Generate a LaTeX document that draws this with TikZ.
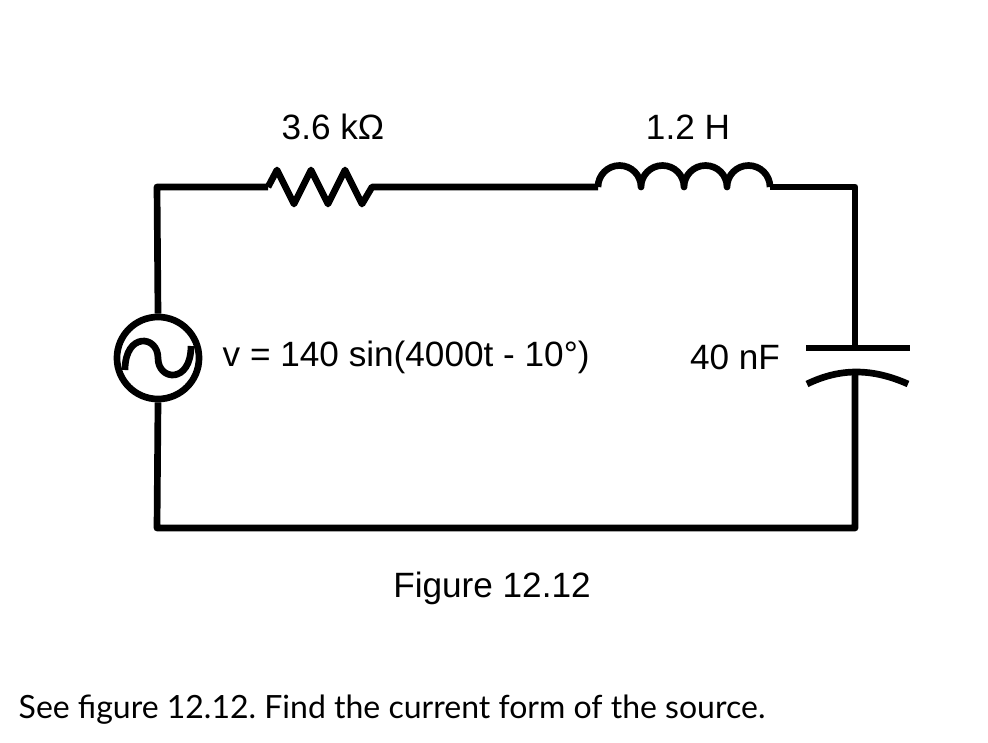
\documentclass[tikz,border=0pt]{standalone}
\usepackage{fontspec}
\setmainfont{Liberation Sans}
\newfontfamily\latofont{Lato}
\frenchspacing
\begin{document}
\begin{tikzpicture}[x=0.01cm,y=-0.01cm,
    wire/.style={line width=1.9pt,line join=round},
    lbl/.style={font=\fontsize{10pt}{12pt}\selectfont,inner sep=0pt}]
  \useasboundingbox (0,0) rectangle (988,742);
  % corners and component ends
  \coordinate (tl) at (157,187);
  \coordinate (tr) at (855,187);
  \coordinate (bl) at (157,528);
  \coordinate (br) at (855,528);
  \coordinate (r1) at (268,187);
  \coordinate (r2) at (372,187);
  \coordinate (l1) at (598,187);
  \coordinate (l2) at (770,187);
  \coordinate (c1) at (855,348);
  \coordinate (c2) at (855,374);
  \node[circle,draw,line width=1.9pt,minimum size=0.82cm,inner sep=0pt] (src) at (158,358) {};
  % wires
  \draw[wire] (src.north) -- (tl) -- (r1);
  \draw[wire] (r1) -- ++(9,-17) -- ++(17,34) -- ++(17,-34) -- ++(17,34) -- ++(17,-34) -- ++(17,34) -- (r2) -- (l1);
  \draw[wire] (l1) arc[start angle=180,end angle=360,radius=21.5]
                   arc[start angle=180,end angle=360,radius=21.5]
                   arc[start angle=180,end angle=360,radius=21.5]
                   arc[start angle=180,end angle=360,radius=21.5];
  \draw[wire] (l2) -- (tr) -- (c1);
  \draw[wire] (806,348) -- (910,348);
  \draw[wire] (807,384) .. controls (840,368) and (872,368) .. (908,384);
  \draw[wire] (c2) -- (br) -- (bl) -- (src.south);
  % sine in source
  \draw[wire] (125,370) .. controls (125,332) and (158,335) .. (158,358)
                        .. controls (158,381) and (191,384) .. (191,346);
  % labels
  \node[lbl] (tR) at (333,127) {3.6 kΩ};
  \node[lbl] (tL) at (688,127) {1.2 H};
  \node[lbl,anchor=west] (tV) at (222,357) {v = 140 sin(4000t - 10°)};
  \node[lbl] (tC) at (735,357) {40 nF};
  \node[lbl] (tF) at (492,588) {Figure 12.12};
  \node[lbl,anchor=west,font=\latofont\fontsize{9.1pt}{11pt}\selectfont] (tQ) at (18,710) {See figure 12.12. Find the current form of the source.};
\end{tikzpicture}
\end{document}
